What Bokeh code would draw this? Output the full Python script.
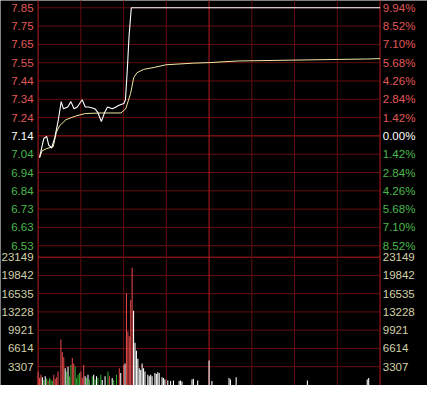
from bokeh.plotting import figure
from bokeh.models import Range1d, ColumnDataSource
from bokeh.embed import file_html
from bokeh.resources import INLINE
from bokeh.core.properties import value

# ---------------- data ----------------
base_price = 7.14
pct_values = [9.94, 8.52, 7.10, 5.68, 4.26, 2.84, 1.42, 0.00, -1.42, -2.84, -4.26, -5.68, -7.10, -8.52]
price_labels = ["7.85", "7.75", "7.65", "7.55", "7.44", "7.34", "7.24", "7.14",
                "7.04", "6.94", "6.84", "6.73", "6.63", "6.53"]
pct_labels = ["9.94%", "8.52%", "7.10%", "5.68%", "4.26%", "2.84%", "1.42%", "0.00%",
              "1.42%", "2.84%", "4.26%", "5.68%", "7.10%", "8.52%"]
vol_ticks = [23149, 19842, 16535, 13228, 9921, 6614, 3307]
vol_labels = ["23149", "19842", "16535", "13228", "9921", "6614", "3307"]
time_grid = [0, 30, 60, 90, 120, 150, 180, 210, 240]

price_t = [1, 4, 6, 7.4, 9.5, 11.7, 14, 16.2, 17.8, 20.8, 23, 25.2, 27.5, 30.9, 33.1,
           35.4, 39.9, 41.9, 44.4, 46.7, 48.7, 52.1, 54.6, 56.8, 60.2, 61.3, 62.7, 63.8, 65.4, 240]
price_v = [7.02, 7.126, 7.137, 7.09, 7.073, 7.13, 7.22, 7.33, 7.29, 7.30, 7.33, 7.29, 7.30, 7.34, 7.30,
           7.30, 7.29, 7.27, 7.22, 7.27, 7.30, 7.29, 7.30, 7.31, 7.32, 7.34, 7.52, 7.69, 7.85, 7.85]

avg_t = [1.1, 2.7, 6.1, 10.6, 12.8, 15.1, 19.6, 26.4, 33.1, 44.4, 58.1, 61.5, 64.9, 67.1,
         69.4, 73.9, 81.8, 89.7, 108.9, 120.2, 140.4, 230.6, 240]
avg_v = [7.02, 7.057, 7.07, 7.08, 7.16, 7.197, 7.23, 7.25, 7.264, 7.267, 7.267, 7.29, 7.375, 7.463,
         7.49, 7.508, 7.52, 7.534, 7.543, 7.546, 7.555, 7.566, 7.568]

vol_t = [0, 1, 2, 3, 4, 5, 6, 7, 8, 9, 10, 11, 12, 13, 14, 16, 17, 18, 19, 20, 21, 22, 23, 24, 25, 26,
         27, 28, 29, 30, 31, 32, 33, 34, 35, 36, 38, 39, 40, 41, 42, 44, 45, 47, 49, 50, 52, 53, 55, 57, 58,
         60, 61, 62, 63, 64, 65, 66, 67, 68, 69, 70, 71, 72, 73, 74, 75, 77, 78, 79, 80, 82, 83, 84,
         85, 87, 88, 89, 91, 93, 95, 99, 100, 101, 108, 109, 112, 120, 122, 134, 135, 139, 189, 231, 232]
vol_v = [2430, 1300, 1850, 1390, 900, 1560, 1160, 800, 1270, 990, 700, 1850, 1100, 1390, 2430, 8210,
         5900, 5030, 3000, 2430, 3300, 1500, 3590, 4860, 3880, 3300, 1200, 1850, 2140, 2430, 1300, 3590,
         1560, 1270, 1850, 1000, 1560, 1850, 1000, 1560, 1270, 1850, 900, 1560, 2430, 1560, 1270, 900,
         1850, 3000, 2140, 3590, 3880, 16600, 9670, 8800, 15450, 21230, 13420, 7640, 6200, 4740, 3000,
         2720, 3880, 3000, 2430, 1850, 1560, 1850, 1560, 2140, 1960, 2310, 2140, 1390, 1270, 990, 810,
         690, 810, 690, 810, 580, 990, 1100, 810, 4400, 690, 1270, 990, 1390, 810, 990, 1270]
vol_dir = ["r", "r", "r", "w", "g", "w", "g", "r", "g", "g", "g", "r", "r", "r", "r", "r",
           "r", "r", "w", "g", "w", "g", "g", "r", "r", "g", "g", "g", "g", "r", "r", "r",
           "w", "g", "w", "g", "g", "w", "g", "w", "g", "g", "w", "w", "g", "r", "w", "g",
           "g", "r", "w", "r", "w", "r", "r", "r", "r", "r", "w", "w", "w", "w", "w",
           "w", "w", "w", "w", "w", "w", "w", "w", "w", "w", "w", "w", "w", "w", "w", "w",
           "w", "w", "w", "w", "w", "w", "w", "w", "w", "w", "w", "w", "w", "w", "w", "w"]

# ---------------- styles ----------------
RED_TXT = "#e05858"
GREEN_TXT = "#4cb84c"
WHITE_TXT = "#ffffff"
VOL_TXT = "#d2d2a8"
GRID = "#640e0e"
GRID_HI = "#b81c1c"
BAR_COL = {"r": "#e04848", "g": "#30a830", "w": "#ffffff"}
FONT = value("Liberation Sans")

price_pos = [base_price * (1 + p / 100.0) for p in pct_values]
label_col = [RED_TXT if p > 0 else (GREEN_TXT if p < 0 else WHITE_TXT) for p in pct_values]

p = figure(width=427, height=385, output_backend="svg", toolbar_location=None,
           x_axis_type=None, y_axis_type=None,
           x_range=Range1d(-26.4, 273.3), y_range=Range1d(5.7575, 7.8900),
           min_border=0, background_fill_color="black", border_fill_color="black",
           outline_line_color=None)
p.extra_y_ranges = {"vol": Range1d(-110, 69685)}
p.grid.visible = False

# horizontal grid (price area)
hi = [GRID_HI if v == 0 else GRID for v in pct_values]
p.segment(x0=[time_grid[0]] * len(price_pos), x1=[time_grid[-1]] * len(price_pos),
          y0=price_pos, y1=price_pos, line_color=hi, line_width=1)
# horizontal grid (volume area)
vhi = [GRID_HI if i == 0 else GRID for i in range(len(vol_ticks))]
p.segment(x0=[time_grid[0]] * len(vol_ticks), x1=[time_grid[-1]] * len(vol_ticks),
          y0=vol_ticks, y1=vol_ticks, line_color=vhi, line_width=1, y_range_name="vol")
# vertical grid
vcol = [GRID_HI if t in (time_grid[0], time_grid[4], time_grid[-1]) else GRID for t in time_grid]
p.segment(x0=time_grid, x1=time_grid, y0=[-1000] * len(time_grid), y1=[80000] * len(time_grid),
          line_color=vcol, line_width=1, y_range_name="vol")

# volume bars
vsrc = ColumnDataSource(dict(t=vol_t, v=vol_v, c=[BAR_COL[d] for d in vol_dir]))
p.vbar(x="t", top="v", bottom=0, width=0.75, fill_color="c", line_color=None,
       source=vsrc, y_range_name="vol")

# price and average lines
p.line(avg_t, avg_v, line_color="#f0e6a0", line_width=1)
p.line(price_t, price_v, line_color="#ffffff", line_width=1.1)

# labels
p.text(x=[-3.2] * len(price_pos), y=price_pos, text=price_labels, text_color=label_col,
       text_align="right", text_baseline="middle", text_font=FONT, text_font_size="11.5px")
p.text(x=[241.9] * len(price_pos), y=price_pos, text=pct_labels, text_color=label_col,
       text_align="left", text_baseline="middle", text_font=FONT, text_font_size="11.5px")
p.text(x=[-3.2] * len(vol_ticks), y=vol_ticks, text=vol_labels, text_color=VOL_TXT,
       text_align="right", text_baseline="middle", text_font=FONT, text_font_size="11.5px",
       y_range_name="vol")
p.text(x=[241.9] * len(vol_ticks), y=vol_ticks, text=vol_labels, text_color=VOL_TXT,
       text_align="left", text_baseline="middle", text_font=FONT, text_font_size="11.5px",
       y_range_name="vol")

open("out.html", "w").write(file_html(p, INLINE))
